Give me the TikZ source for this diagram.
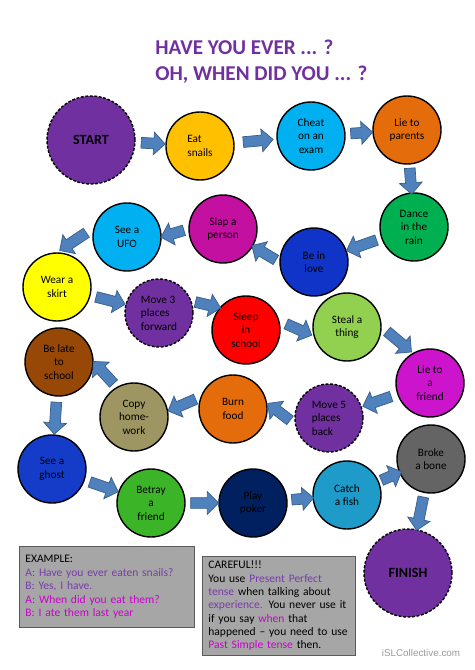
\documentclass[tikz,border=0pt]{standalone}
\usepackage{fontspec}
\setmainfont{Carlito}
\newfontfamily\creditfont{Liberation Sans}
\usepackage{xcolor}
\usepackage{tikz}
\usetikzlibrary{positioning,shapes.arrows}
\definecolor{titlepurple}{RGB}{112,48,160}
\definecolor{startpurple}{RGB}{112,48,160}
\definecolor{snailgold}{RGB}{255,192,0}
\definecolor{cheatblue}{RGB}{0,176,240}
\definecolor{parentorange}{RGB}{228,108,10}
\definecolor{rainbowgreen}{RGB}{0,176,80}
\definecolor{loveblue}{RGB}{16,52,200}
\definecolor{slapmagenta}{RGB}{196,16,160}
\definecolor{skirtyellow}{RGB}{255,255,0}
\definecolor{sleepred}{RGB}{255,0,0}
\definecolor{stealgreen}{RGB}{146,208,80}
\definecolor{friendmagenta}{RGB}{204,20,204}
\definecolor{copykhaki}{RGB}{158,150,98}
\definecolor{latebrown}{RGB}{151,72,6}
\definecolor{ghostblue}{RGB}{20,60,200}
\definecolor{betraygreen}{RGB}{60,180,40}
\definecolor{pokernavy}{RGB}{0,32,96}
\definecolor{fishblue}{RGB}{30,155,200}
\definecolor{bonegray}{RGB}{100,100,100}
\definecolor{arrowblue}{RGB}{79,129,189}
\definecolor{arrowedge}{RGB}{56,93,138}
\definecolor{notefill}{RGB}{166,166,166}
\definecolor{notegray}{RGB}{90,90,90}
\definecolor{exviolet}{RGB}{120,60,170}
\definecolor{exmagenta}{RGB}{204,0,204}

\begin{document}
\begin{tikzpicture}[
    x=0.25mm, y=-0.25mm,
    title/.style={font=\fontsize{15}{18}\selectfont\bfseries, text=titlepurple, inner sep=0pt},
    spot/.style={circle, draw, line width=1pt, minimum size=17mm, inner sep=0pt, align=center, font=\fontsize{8}{9.6}\selectfont},
    bonus/.style={spot, dashed, dash pattern=on 2pt off 1.2pt},
    goal/.style={bonus, minimum size=22mm, font=\fontsize{10}{12}\selectfont\bfseries},
    hop/.style={single arrow, draw=arrowedge, fill=arrowblue, line width=0.5pt, minimum height=#1, inner sep=0pt, inner ysep=1.25mm, single arrow head extend=1.5mm, sloped, allow upside down},
    hop/.default=7mm,
    note/.style={draw=notegray, fill=notefill, line width=0.6pt, anchor=north west, align=left, inner sep=0pt, font=\fontsize{8.2}{9.5}\selectfont},
    credit/.style={font=\creditfont\fontsize{7}{8}\selectfont, text=black!40}
]
    \useasboundingbox (0,0) rectangle (474,670);

    % Title
    \node[title, anchor=base west] (ever) at (155,54.5) {HAVE YOU EVER ... ?};
    \node[title, anchor=base west] (when) at (155,81) {OH, WHEN DID YOU ... ?};

    % Squares of the board
    \node[goal, fill=startpurple] (start) at (91,140) {START};
    \node[spot, fill=snailgold, align=left] (eat) at (200,146) {Eat\\snails};
    \node[spot, fill=cheatblue] (cheat) at (311,136) {Cheat\\on an\\exam};
    \node[spot, fill=parentorange] (parents) at (407,130) {Lie to\\parents};
    \node[spot, fill=rainbowgreen] (dance) at (414,227) {Dance\\in the\\rain};
    \node[spot, fill=loveblue] (love) at (314,262) {Be in\\love};
    \node[spot, fill=slapmagenta] (slap) at (223,229) {Slap a\\person};
    \node[spot, fill=cheatblue] (ufo) at (127,237) {See a\\UFO};
    \node[spot, fill=skirtyellow] (skirt) at (57,287) {Wear a\\skirt};
    \node[bonus, fill=startpurple, align=left] (forward) at (159,313) {Move 3\\places\\forward};
    \node[spot, fill=sleepred] (sleep) at (246,330) {Sleep\\in\\school};
    \node[spot, fill=stealgreen] (steal) at (347,327) {Steal a\\thing};
    \node[spot, fill=friendmagenta] (friend) at (430,383) {Lie to\\a\\friend};
    \node[bonus, fill=startpurple, align=left] (back) at (329,418) {Move 5\\places\\back};
    \node[spot, fill=parentorange] (burn) at (233,409) {Burn\\food};
    \node[spot, fill=copykhaki] (copy) at (134,417) {Copy\\home-\\work};
    \node[spot, fill=latebrown] (late) at (59,362) {Be late\\to\\school};
    \node[spot, fill=ghostblue] (ghost) at (52,469) {See a\\ghost};
    \node[spot, fill=betraygreen] (betray) at (151,503) {Betray\\a\\friend};
    \node[spot, fill=pokernavy] (poker) at (253,503) {Play\\poker};
    \node[spot, fill=fishblue] (fish) at (347,495) {Catch\\a fish};
    \node[spot, fill=bonegray] (bone) at (431,459) {Broke\\a bone};
    \node[goal, fill=startpurple] (finish) at (408,573) {FINISH};

    % Path of the game
    \path (start) -- node[hop=6mm] {} (eat);
    \path (eat) -- node[hop=7.5mm] {} (cheat);
    \path (cheat) -- node[hop=5.5mm] {} (parents);
    \path (parents) -- node[hop=6.5mm] {} (dance);
    \path (dance) -- node[hop=8mm] {} (love);
    \path (love.west) -- node[hop] {} (slap.330);
    \path (slap.west) -- node[hop=6mm] {} (ufo.east);
    \path (ufo.165) -- node[hop=8mm] {} (skirt.north);
    \path (skirt) -- node[hop=7.5mm] {} (forward);
    \path (forward.20) -- node[hop=6.5mm] {} (sleep.140);
    \path (sleep.15) -- node[hop] {} (steal.195);
    \path (steal.east) -- node[hop=8mm] {} (friend.120);
    \path (friend) -- node[hop=7.5mm] {} (back);
    \path (back.190) -- node[hop] {} (burn.10);
    \path (burn.160) -- node[hop=7.5mm] {} (copy.10);
    \path (copy.120) -- node[hop=7.5mm] {} (late.east);
    \path (late) -- node[hop=8mm] {} (ghost);
    \path (ghost) -- node[hop=7.5mm] {} (betray);
    \path (betray) -- node[hop=7mm] {} (poker);
    \path (poker) -- node[hop=5.5mm] {} (fish);
    \path (fish) -- node[hop=5.5mm] {} (bone);
    \path (bone) -- node[hop=8.5mm] {} (finish);

    % Notes at the bottom
    \node[note, minimum width=43.75mm, minimum height=20.25mm, text width=40.75mm] (example) at (19,546) {EXAMPLE:\\
        \textcolor{exviolet}{A: Have you ever eaten snails?}\\
        \textcolor{exviolet}{B: Yes, I have.}\\
        \textcolor{exmagenta}{A: When did you eat them?}\\
        \textcolor{exmagenta}{B: I ate them last year}};
    \node[note, minimum width=38.25mm, minimum height=24.75mm, text width=35.25mm] (careful) at (202,556) {CAREFUL!!!\\
        You use \textcolor{exviolet}{Present Perfect}\\
        \textcolor{exviolet}{tense} when talking about\\
        \textcolor{exviolet}{experience.} You never use it\\
        if you say \textcolor{exmagenta}{when} that\\
        happened -- you need to use\\
        \textcolor{exmagenta}{Past Simple tense} then.};

    \node[credit] (site) at (421,653) {iSLCollective.com};
\end{tikzpicture}
\end{document}
